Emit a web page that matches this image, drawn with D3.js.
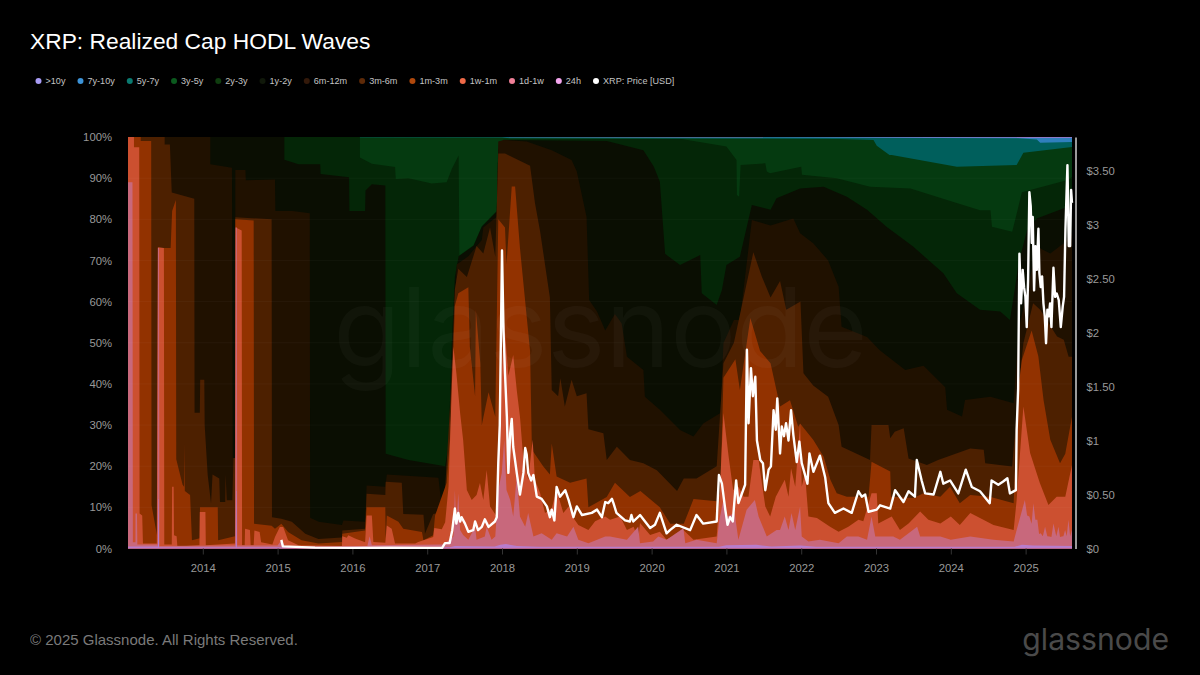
<!DOCTYPE html>
<html><head><meta charset="utf-8">
<script src="https://cdn.jsdelivr.net/npm/d3@7/dist/d3.min.js"></script>
<style>html,body{margin:0;padding:0;background:#000;overflow:hidden}svg{display:block;opacity:.999}text{font-family:"Liberation Sans",Arial,sans-serif}</style>
</head><body><svg id="c" width="1200" height="675"></svg>
<script>
const title="XRP: Realized Cap HODL Waves";
const copyright="© 2025 Glassnode. All Rights Reserved.";
const yearTicks=[2014,2015,2016,2017,2018,2019,2020,2021,2022,2023,2024,2025];
const pctTicks=[0,10,20,30,40,50,60,70,80,90,100];
const priceTicks=[0,0.5,1,1.5,2,2.5,3,3.5];
const legendNames=[">10y","7y-10y","5y-7y","3y-5y","2y-3y","1y-2y","6m-12m","3m-6m","1m-3m","1w-1m","1d-1w","24h","XRP: Price [USD]"];
const legendColors=["#a99cf5","#3c93d8","#0a7a70","#0b5a1e","#0f3d0f","#10180a","#33190a","#5e2a08","#b0480c","#f06a48","#f08098","#f4a6ee","#ffffff"];
const bandColors=["#8c7ac8","#2f7fbd","#005f5c","#053a10","#042607","#0a0e02","#201100","#4d2000","#923200","#cc5030","#c8687c","#b87ccc"];

// cumulative top of each band: [decimal year, percent]
const top10y=[[2013,100],[2025.62,100]];
const top7y10y=[[2013,100],[2023,99.9],[2025.62,99.8]];
const top5y7y=[[2013,100],[2020.4,99.9],[2024.9,99.7],[2025.15,99.4],[2025.195,98.6],[2025.62,98.8]];
const top3y5y=[[2013,100],[2018,99.9],[2018.1,99.7],[2021,99.6],[2022.5,99.5],[2022.966,99.3],[2023.01,97.9],[2023.18,95.6],[2023.21,95.6],[2024.08,92.8],[2024.88,93.2],[2024.97,96.2],[2025.62,97.6]];
const top2y3y=[[2013,100],[2016.1,100],[2016.1,95],[2016.26,93.5],[2016.57,92.7],[2016.58,89.8],[2016.75,90],[2017.06,88.7],[2017.26,89],[2017.33,92.3],[2017.42,95.5],[2017.43,71.2],[2017.62,73.7],[2017.73,78.3],[2017.93,82],[2017.95,97],[2018.02,99.4],[2019.5,99.5],[2020.4,99.5],[2021,97.7],[2021.135,94.4],[2021.14,85.9],[2021.17,85.5],[2021.19,93.2],[2021.52,93.6],[2021.54,91.6],[2021.583,91.2],[2022.0,92.8],[2022.01,90.8],[2022.475,90],[2022.92,87.9],[2023.46,87.5],[2023.95,84.7],[2024.39,82.2],[2024.53,82.2],[2024.55,78.2],[2024.82,77],[2024.86,79.8],[2024.95,86.6],[2025.55,89.5],[2025.62,90.3]];
const top1y2y=[[2013,100],[2015.09,100],[2015.09,94.5],[2015.28,93.4],[2015.57,93.4],[2015.575,91],[2015.955,90.2],[2015.96,82],[2016.17,82],[2016.175,87],[2016.26,88.5],[2016.44,88.2],[2016.445,23],[2016.75,21.5],[2017.24,20],[2017.285,25],[2017.33,50],[2017.37,66],[2017.42,71],[2017.62,73.6],[2017.73,78.2],[2017.93,81.9],[2017.95,96.8],[2018.02,99.3],[2019.4,99],[2019.89,96.8],[2020.03,92.8],[2020.11,89.1],[2020.18,71.6],[2020.38,68.9],[2020.65,71.3],[2020.67,62],[2020.87,59.2],[2020.94,62.8],[2021,68.9],[2021.18,70.9],[2021.34,83.5],[2021.59,82.3],[2021.67,85.1],[2021.985,87.5],[2022.3,87.9],[2022.61,85.5],[2022.88,82.3],[2023.14,78.2],[2023.5,73.3],[2023.9,66.9],[2024.08,62],[2024.39,58],[2024.66,57.6],[2024.79,55.5],[2024.86,63.6],[2024.905,69.3],[2025.02,77.4],[2025.15,80.2],[2025.51,82.7],[2025.62,83.5]];
const top6m12m=[[2013,100],[2014.1,100],[2014.1,93.4],[2014.39,92.5],[2014.4,22],[2014.43,22],[2014.435,92],[2014.57,92],[2014.575,89.5],[2014.965,89.7],[2014.97,82],[2015.2,82],[2015.43,81.5],[2015.435,7.5],[2015.55,6.5],[2015.86,5.7],[2015.88,6.8],[2016.17,6.5],[2016.19,15.3],[2016.44,15],[2016.46,18],[2017.15,17.2],[2017.22,6],[2017.285,20],[2017.33,44],[2017.395,69],[2017.55,71],[2017.64,73],[2017.73,75],[2017.75,78],[2017.93,80.6],[2017.95,98.9],[2018.02,99.3],[2018.33,98.9],[2018.665,96.8],[2018.93,94.4],[2019,91.6],[2019.13,80.6],[2019.165,60.4],[2019.27,57.6],[2019.38,53],[2019.51,57],[2019.6,54.7],[2019.67,46.6],[2019.89,43.4],[2019.91,36.9],[2020.11,33.7],[2020.38,28.8],[2020.56,27.2],[2020.69,30.4],[2020.92,32.9],[2020.96,49.9],[2021.1,55.5],[2021.18,55.5],[2021.34,79.8],[2021.59,78.5],[2021.895,80.2],[2021.985,76.6],[2022.16,74.2],[2022.36,70],[2022.5,63.6],[2022.54,53.9],[2022.88,51.4],[2023.05,48.2],[2023.39,43.4],[2023.635,44.4],[2023.925,39.2],[2023.95,33.7],[2024.15,32.1],[2024.19,36.1],[2024.53,36.9],[2024.84,35.3],[2024.905,53],[2025.02,62.8],[2025.15,73.3],[2025.33,71.7],[2025.51,74.2],[2025.62,76.6]];
const top3m6m=[[2013,100],[2013.49,100],[2013.49,98.2],[2013.56,98.2],[2013.585,86.5],[2013.886,85],[2013.89,33],[2013.96,33],[2013.965,41],[2014.02,41],[2014.025,30],[2014.065,18],[2014.11,11],[2014.13,18],[2014.22,17],[2014.23,11.3],[2014.3,11.3],[2014.305,18],[2014.32,11.7],[2014.395,11.7],[2014.41,22],[2014.43,22],[2014.435,80.5],[2014.92,80],[2014.925,7.6],[2015.05,7.2],[2015.19,6.5],[2015.37,3.6],[2015.545,2.3],[2015.86,2.7],[2015.865,4.4],[2016.17,4.8],[2016.19,13.3],[2016.44,13],[2016.445,16.2],[2016.66,16],[2016.68,8.4],[2016.95,8.2],[2016.97,3.6],[2017.08,8.4],[2017.195,8.8],[2017.24,14.5],[2017.31,36],[2017.37,63],[2017.416,68],[2017.53,66],[2017.66,73.5],[2017.75,71.7],[2017.84,78],[2017.91,70.9],[2017.95,96],[2018.04,96],[2018.375,93],[2018.44,84],[2018.51,77],[2018.64,61],[2018.665,38.5],[2018.75,37],[2018.78,41.4],[2018.84,34.5],[2018.93,41],[2019,37],[2019.13,37.7],[2019.155,29],[2019.355,28],[2019.4,21.5],[2019.535,24.7],[2019.71,21.5],[2019.89,20.7],[2020.07,19],[2020.34,14],[2020.43,17],[2020.6,17],[2020.87,20],[2020.96,45],[2021.1,50],[2021.36,72],[2021.475,66],[2021.59,61],[2021.717,65],[2021.8,58],[2021.99,60],[2022.03,42.6],[2022.16,39.6],[2022.36,36.9],[2022.5,30],[2022.54,24.7],[2022.92,21.5],[2022.94,30],[2023.166,30],[2023.19,26.8],[2023.25,28.4],[2023.37,29.2],[2023.435,21.9],[2023.68,20.3],[2023.83,21.5],[2024.26,24.3],[2024.44,24],[2024.46,20.7],[2024.82,19.9],[2024.905,38.5],[2024.97,49.9],[2025.1,59.6],[2025.195,58],[2025.42,51.5],[2025.51,50.7],[2025.575,46.6],[2025.62,46.6]];
const top1m3m=[[2013,100],[2013.17,100],[2013.17,99],[2013.31,99],[2013.315,10.5],[2013.39,3],[2013.4,73],[2013.57,73],[2013.59,82],[2013.64,84.7],[2013.645,21.7],[2013.73,15.5],[2013.75,15],[2013.752,25.5],[2013.76,14],[2013.83,13],[2013.855,2],[2013.96,2.5],[2013.962,10],[2014.2,10],[2014.205,2],[2014.43,3],[2014.435,80],[2014.68,79.7],[2014.685,6],[2014.92,5.5],[2014.965,4.8],[2015.05,6],[2015.14,4],[2015.32,2],[2015.545,1.2],[2015.86,1.6],[2015.865,3.6],[2016.17,4.4],[2016.19,10],[2016.44,10],[2016.445,2.5],[2016.46,8],[2016.615,6.5],[2016.68,4.8],[2016.93,4],[2016.95,2],[2017.08,3.2],[2017.105,8],[2017.26,16],[2017.31,28],[2017.37,59],[2017.416,62],[2017.55,63.5],[2017.57,49],[2017.64,37],[2017.65,58],[2017.71,45],[2017.73,30],[2017.82,38],[2017.91,32],[2017.95,80],[2018.04,78],[2018.06,69],[2018.13,88],[2018.175,88],[2018.24,73],[2018.375,48],[2018.4,24],[2018.55,20],[2018.64,18],[2018.665,25.5],[2018.73,17.5],[2018.91,16],[2019.13,17],[2019.155,10],[2019.4,12.5],[2019.51,16],[2019.71,12.5],[2019.85,14],[2020.11,10],[2020.25,6],[2020.43,6],[2020.56,12],[2020.87,11.5],[2020.92,13.7],[2020.96,41.5],[2021.12,46],[2021.18,38.5],[2021.32,56],[2021.45,48],[2021.59,45],[2021.717,34.5],[2021.85,36],[2021.96,29.6],[2021.985,30.4],[2022.16,26.4],[2022.3,22.3],[2022.39,16.7],[2022.475,13.4],[2022.61,12.6],[2022.9,12.6],[2022.94,21.1],[2023.19,18.7],[2023.2,12.6],[2023.5,12.3],[2023.635,13.4],[2023.86,12.6],[2023.99,15],[2024.12,11],[2024.26,13],[2024.52,12.6],[2024.84,11],[2024.9,38.5],[2024.95,45.8],[2025.08,53],[2025.17,46.7],[2025.24,36],[2025.33,26.4],[2025.46,20.7],[2025.53,23],[2025.62,32]];
const top1w1m=[[2013,100],[2013.08,100],[2013.08,97.5],[2013.15,97.5],[2013.155,8.5],[2013.19,8],[2013.2,1.2],[2013.385,1.2],[2013.4,73.2],[2013.48,73],[2013.485,1],[2013.585,1],[2013.59,15],[2013.61,15],[2013.615,3.2],[2013.65,3],[2013.66,0.5],[2013.955,0.8],[2013.96,8.9],[2014.035,8.9],[2014.04,0.8],[2014.43,1.2],[2014.44,78],[2014.52,77.3],[2014.525,0.8],[2014.56,0.8],[2014.565,4.8],[2014.63,4.5],[2014.64,0.8],[2014.68,0.8],[2014.69,4.4],[2014.76,4],[2014.78,1.5],[2014.93,1],[2014.965,2.8],[2015.03,5.2],[2015.075,5.2],[2015.14,2],[2015.28,0.8],[2015.86,0.6],[2015.865,3],[2015.925,2.6],[2015.945,3.2],[2016.035,2.4],[2016.17,1.5],[2016.19,8],[2016.26,8],[2016.28,1.6],[2016.44,1.4],[2016.46,5.6],[2016.525,4.8],[2016.57,1.2],[2016.84,1.2],[2016.88,1.6],[2017.08,2.8],[2017.095,5],[2017.195,4.7],[2017.24,6.4],[2017.285,15],[2017.33,40],[2017.35,49],[2017.39,42.6],[2017.44,32.9],[2017.48,26.4],[2017.53,14.2],[2017.595,11.8],[2017.66,13],[2017.705,15.9],[2017.75,11.8],[2017.795,19.1],[2017.84,10.2],[2017.93,7.8],[2017.95,26.4],[2017.996,42.6],[2018.03,55],[2018.085,42],[2018.15,47],[2018.197,38.5],[2018.24,32],[2018.286,21.5],[2018.35,16.7],[2018.41,26.4],[2018.44,16.7],[2018.51,13.4],[2018.575,8.6],[2018.665,9.8],[2018.73,14.2],[2018.82,8.6],[2018.89,10.2],[2018.955,7.4],[2019.02,5.7],[2019.155,4.5],[2019.245,6.6],[2019.38,7.8],[2019.444,7],[2019.58,7.8],[2019.67,4.5],[2019.76,5.3],[2019.82,2.1],[2019.845,6.2],[2019.98,3.3],[2020.11,4.1],[2020.2,2.1],[2020.425,4.5],[2020.56,2.1],[2020.87,2.9],[2020.906,11.8],[2020.96,32.9],[2021.03,22.3],[2021.09,14.2],[2021.16,15],[2021.23,12.6],[2021.295,12.6],[2021.36,21.5],[2021.43,21.5],[2021.52,10.2],[2021.585,7.8],[2021.66,12.6],[2021.78,16.7],[2021.83,12.6],[2021.864,19.5],[2021.92,15],[2021.985,30.4],[2022.007,15],[2022.05,18.3],[2022.096,7.8],[2022.21,7.4],[2022.386,5.3],[2022.5,4.1],[2022.63,5.3],[2022.765,7],[2022.83,6.6],[2022.94,13.4],[2023.01,13.4],[2023.03,6.1],[2023.21,7.8],[2023.32,4.5],[2023.435,6.1],[2023.59,9],[2023.7,7],[2023.86,6.1],[2024,7.8],[2024.12,5.7],[2024.26,8.6],[2024.435,7],[2024.57,5.7],[2024.84,4.5],[2024.88,11.8],[2024.97,34.5],[2025.06,23.2],[2025.19,15.9],[2025.305,10.6],[2025.415,12.6],[2025.53,12.6],[2025.62,20.3]];
const top1d1w=[[2013,89],[2013.06,89],[2013.065,1.5],[2013.1,1.5],[2013.1,8.5],[2013.12,8.5],[2013.125,1],[2013.395,1],[2013.4,73],[2013.415,73],[2013.42,0.6],[2014.435,0.7],[2014.44,78],[2014.455,78],[2014.46,0.7],[2015,0.7],[2015.05,2],[2015.1,0.5],[2016.2,0.6],[2016.23,3],[2016.26,0.8],[2017.2,1],[2017.238,1.3],[2017.35,2.9],[2017.37,14.2],[2017.39,5.3],[2017.415,13.4],[2017.44,4.5],[2017.48,3.3],[2017.55,2.1],[2017.64,5.3],[2017.66,2.1],[2017.77,2.9],[2017.795,5.3],[2017.86,2.1],[2017.91,2.9],[2017.95,14.2],[2017.996,18.3],[2018.03,26.4],[2018.06,14.2],[2018.11,11.8],[2018.15,7.8],[2018.197,17.5],[2018.24,7.8],[2018.31,5.3],[2018.35,8.6],[2018.42,2.9],[2018.53,3.7],[2018.665,2.1],[2018.73,3.7],[2018.87,2.9],[2018.955,5.3],[2019.02,2.1],[2019.155,1.3],[2019.38,2.9],[2019.444,2.9],[2019.67,2.1],[2019.82,5.3],[2019.845,1.3],[2020.02,1.7],[2020.09,2.9],[2020.2,2.1],[2020.425,4.9],[2020.45,1.3],[2020.6,2.1],[2020.87,1.3],[2020.906,7],[2020.96,11.8],[2021.01,7.8],[2021.11,8.6],[2021.16,2.1],[2021.27,9.4],[2021.38,11.8],[2021.43,7.8],[2021.54,2.9],[2021.67,4.5],[2021.717,4.5],[2021.78,7.8],[2021.83,4.5],[2021.87,8.6],[2021.92,4.5],[2021.985,10.2],[2022.007,2.9],[2022.096,1.7],[2022.25,2.1],[2022.5,1.3],[2022.61,2.9],[2022.765,2.9],[2022.88,2.1],[2022.94,7.8],[2022.99,2.9],[2023.23,2.9],[2023.32,2.1],[2023.55,5.3],[2023.59,2.9],[2023.86,2.9],[2024,2.1],[2024.26,2.9],[2024.57,2.1],[2024.84,1.7],[2024.88,4.5],[2024.99,11.8],[2025.02,8],[2025.05,7.8],[2025.08,6],[2025.104,11],[2025.13,7],[2025.157,7],[2025.18,3.5],[2025.202,3.7],[2025.23,3],[2025.26,5.3],[2025.29,3],[2025.318,2.9],[2025.345,2.8],[2025.372,6.1],[2025.41,3],[2025.439,5.3],[2025.46,2.8],[2025.483,2.9],[2025.505,3],[2025.528,4.5],[2025.55,3],[2025.572,7],[2025.595,3],[2025.62,4.5]];
const top24h=[[2013,0.5],[2013.4,0.5],[2013.405,12],[2013.41,12],[2013.415,0.3],[2014.44,0.3],[2014.445,14],[2014.45,14],[2014.455,0.3],[2017.3,0.3],[2017.37,0.6],[2017.9,0.5],[2017.98,0.9],[2018.05,1.1],[2018.2,0.6],[2018.5,0.4],[2020.9,0.4],[2021,0.8],[2021.4,0.9],[2021.6,0.5],[2021.99,0.7],[2022.2,0.4],[2024.85,0.4],[2024.95,0.9],[2025.1,0.7],[2025.62,0.6]];
const bandTops=[top10y,top7y10y,top5y7y,top3y5y,top2y3y,top1y2y,top6m12m,top3m6m,top1m3m,top1w1m,top1d1w,top24h];

// XRP price: [decimal year, USD]
const priceSeries=[[2015.05,0.08],[2015.07,0.02],[2015.5,0.008],[2016,0.006],[2016.5,0.007],[2017,0.006],[2017.2,0.006],[2017.238,0.05],[2017.3,0.05],[2017.335,0.17],[2017.37,0.37],[2017.39,0.23],[2017.415,0.33],[2017.44,0.25],[2017.46,0.29],[2017.505,0.23],[2017.55,0.155],[2017.615,0.17],[2017.64,0.25],[2017.68,0.17],[2017.73,0.2],[2017.77,0.27],[2017.82,0.2],[2017.905,0.25],[2017.93,0.29],[2017.95,0.79],[2017.97,1.14],[2018.0,2.76],[2018.02,2.02],[2018.04,1.62],[2018.065,1.22],[2018.085,0.7],[2018.11,1.07],[2018.13,1.2],[2018.15,0.94],[2018.197,0.7],[2018.24,0.5],[2018.286,0.7],[2018.31,0.93],[2018.33,0.87],[2018.35,0.7],[2018.39,0.63],[2018.42,0.68],[2018.465,0.48],[2018.53,0.46],[2018.6,0.39],[2018.64,0.29],[2018.665,0.36],[2018.7,0.26],[2018.73,0.57],[2018.775,0.48],[2018.845,0.54],[2018.89,0.45],[2018.955,0.29],[2019,0.39],[2019.07,0.31],[2019.2,0.33],[2019.27,0.36],[2019.335,0.29],[2019.38,0.43],[2019.42,0.42],[2019.47,0.46],[2019.49,0.42],[2019.53,0.33],[2019.645,0.26],[2019.71,0.25],[2019.73,0.31],[2019.755,0.25],[2019.845,0.31],[2019.98,0.19],[2020.045,0.22],[2020.11,0.33],[2020.2,0.14],[2020.245,0.17],[2020.335,0.22],[2020.515,0.17],[2020.6,0.31],[2020.69,0.23],[2020.87,0.25],[2020.9,0.68],[2020.94,0.6],[2020.985,0.36],[2021.015,0.22],[2021.05,0.29],[2021.085,0.25],[2021.13,0.63],[2021.16,0.42],[2021.25,0.59],[2021.274,1.84],[2021.296,1.16],[2021.328,1.67],[2021.354,1.41],[2021.386,1.59],[2021.408,1.0],[2021.453,0.82],[2021.488,0.79],[2021.52,0.54],[2021.564,0.73],[2021.595,0.76],[2021.63,1.28],[2021.66,1.1],[2021.68,1.39],[2021.717,0.88],[2021.74,1.13],[2021.77,1.04],[2021.797,1.16],[2021.83,1.0],[2021.864,1.28],[2021.895,1.05],[2021.94,0.8],[2021.975,0.99],[2022.007,0.79],[2022.04,0.71],[2022.083,0.6],[2022.11,0.88],[2022.163,0.71],[2022.25,0.86],[2022.32,0.66],[2022.363,0.42],[2022.45,0.33],[2022.565,0.37],[2022.675,0.33],[2022.765,0.53],[2022.81,0.48],[2022.855,0.5],[2022.9,0.34],[2023.01,0.36],[2023.055,0.4],[2023.19,0.37],[2023.255,0.54],[2023.367,0.43],[2023.435,0.53],[2023.52,0.48],[2023.545,0.82],[2023.61,0.63],[2023.657,0.51],[2023.77,0.5],[2023.86,0.71],[2023.9,0.6],[2023.99,0.63],[2024.1,0.51],[2024.2,0.73],[2024.28,0.57],[2024.39,0.53],[2024.52,0.42],[2024.545,0.63],[2024.635,0.59],[2024.7,0.62],[2024.756,0.65],[2024.79,0.51],[2024.87,0.54],[2024.88,1.1],[2024.9,1.48],[2024.917,2.73],[2024.939,2.27],[2024.961,2.58],[2024.979,2.42],[2024.997,2.33],[2025.015,2.05],[2025.033,2.49],[2025.05,3.3],[2025.068,3.17],[2025.082,2.83],[2025.095,3.07],[2025.113,2.39],[2025.131,2.8],[2025.149,2.58],[2025.171,2.96],[2025.184,2.55],[2025.202,2.42],[2025.22,2.52],[2025.238,2.27],[2025.256,2.15],[2025.273,1.9],[2025.291,2.21],[2025.309,2.15],[2025.327,2.27],[2025.345,2.05],[2025.372,2.6],[2025.394,2.33],[2025.416,2.36],[2025.443,2.3],[2025.47,2.05],[2025.496,2.24],[2025.514,2.33],[2025.532,2.95],[2025.559,3.55],[2025.577,2.8],[2025.595,2.8],[2025.608,3.32],[2025.62,3.2]];

const svg=d3.select("#c");
const L=128,R=1072,T=137,B=548.5;
const x=d3.scaleLinear().domain([2013,2025.62]).range([L,R]);
const y=d3.scaleLinear().domain([0,100]).range([B,T]);
const yP=d3.scaleLinear().domain([0,(B-T)/108]).range([B,T]);

// title and legend
svg.append("text").attr("x",30).attr("y",48.5).attr("fill","#fff").attr("font-size",22.8).text(title);
let lx=38.5;
const lg=svg.append("g");
legendNames.forEach((n,i)=>{
  lg.append("circle").attr("cx",lx).attr("cy",81).attr("r",3).attr("fill",legendColors[i]);
  const t=lg.append("text").attr("x",lx+7).attr("y",84.2).attr("fill","#c4c4c4").attr("font-size",9.1).text(n);
  lx+=7+t.node().getComputedTextLength()+15;
});

// stacked waves, outermost first
const area=d3.area().x(d=>x(d[0])).y0(B).y1(d=>y(d[1]));
svg.append("g").selectAll("path").data(bandTops).join("path")
  .attr("d",area).attr("fill",(d,i)=>bandColors[i]);

// grid
svg.append("g").selectAll("line").data(pctTicks.slice(1,-1)).join("line")
  .attr("x1",L).attr("x2",R).attr("y1",d=>y(d)).attr("y2",d=>y(d))
  .attr("stroke","#fff").attr("stroke-opacity",0.03);

// watermark
svg.append("text").attr("x",600.5).attr("y",367).attr("text-anchor","middle")
  .attr("font-size",110).attr("fill","#fff").attr("fill-opacity",0.03)
  .style("font-family","Inter, sans-serif").text("glassnode");

// axes
const ax=svg.append("g").attr("transform",`translate(0,${B})`)
  .call(d3.axisBottom(x).tickValues(yearTicks).tickFormat(d3.format("d")).tickSize(6).tickPadding(9));
ax.select(".domain").remove();
ax.selectAll("line").attr("stroke","#333");
ax.selectAll("text").attr("fill","#999").attr("font-size",11.3);
const al=svg.append("g").attr("transform",`translate(${L-16},0)`)
  .call(d3.axisLeft(y).tickValues(pctTicks).tickFormat(d=>d+"%").tickSize(0).tickPadding(0));
al.select(".domain").remove();
al.selectAll("text").attr("fill","#999").attr("font-size",11.3);
const ar=svg.append("g").attr("transform",`translate(1075.5,0)`)
  .call(d3.axisRight(yP).tickValues(priceTicks).tickFormat(d=>"$"+(Number.isInteger(d)?d:d.toFixed(2))).tickSize(0).tickPadding(11));
ar.select(".domain").attr("stroke","#9a9a9a").attr("stroke-width",2);
ar.selectAll("text").attr("fill","#999").attr("font-size",11.3);

// price
svg.append("path").datum(priceSeries)
  .attr("d",d3.line().x(d=>x(d[0])).y(d=>yP(d[1])))
  .attr("fill","none").attr("stroke","#fff").attr("stroke-width",2.4).attr("stroke-linejoin","round");

// footer
svg.append("text").attr("x",30).attr("y",645).attr("fill","#7a7a7a").attr("font-size",15).text(copyright);
svg.append("text").attr("x",1169).attr("y",650).attr("text-anchor","end").attr("fill","#4a4a4a")
  .attr("font-size",30.2).style("font-family","Inter, sans-serif").text("glassnode");
</script></body></html>
